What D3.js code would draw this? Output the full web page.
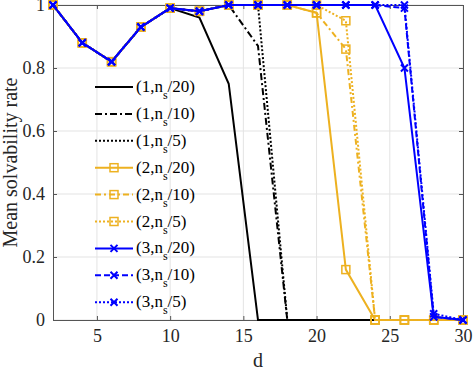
<!DOCTYPE html>
<html><head><meta charset="utf-8">
<script src="https://cdn.jsdelivr.net/npm/d3@7"></script>
<style>body{margin:0;background:#fff}svg{display:block}
.ser{font-family:"Liberation Serif";}</style>
</head><body>
<svg id="c" width="474" height="370"></svg>
<script>
const dVals = [2,4,6,8,10,12,14,16,18,20,22,24,26,28,30];
const s1_20 = [1,0.88,0.82,0.93,0.99,0.96,0.75,0,0,0,0,0,0,0,0];
const s1_10 = [1,0.88,0.82,0.93,0.99,0.98,1,0.87,0,0,0,0,0,0,0];
const s1_5  = [1,0.88,0.82,0.93,0.99,0.98,1,1,0,0,0,0,0,0,0];
const s2_20 = [1,0.88,0.82,0.93,0.99,0.98,1,1,1,0.975,0.16,0,0,0,0];
const s2_10 = [1,0.88,0.82,0.93,0.99,0.98,1,1,1,0.975,0.86,0,0,0,0];
const s2_5  = [1,0.88,0.82,0.93,0.99,0.98,1,1,1,1,0.95,0,0,0,0];
const s3_20 = [1,0.88,0.82,0.93,0.99,0.98,1,1,1,1,1,1,0.8,0.01,0];
const s3_10 = [1,0.88,0.82,0.93,0.99,0.98,1,1,1,1,1,1,0.99,0.01,0];
const s3_5  = [1,0.88,0.82,0.93,0.99,0.98,1,1,1,1,1,1,1,0.02,0];
const seriesNames = ["(1,n|/20)","(1,n|/10)","(1,n|/5)","(2,n|/20)","(2,n|/10)","(2,n|/5)","(3,n|/20)","(3,n|/10)","(3,n|/5)"];
const xTicks = [5,10,15,20,25,30];
const yTicks = [0,0.2,0.4,0.6,0.8,1];

const BLACK="#000000", ORANGE="#EDB120", BLUE="#0000FF";
const styles = [
  {c:BLACK,dash:null,m:null},{c:BLACK,dash:"7,3,2,3",m:null},{c:BLACK,dash:"2,2",m:null},
  {c:ORANGE,dash:null,m:"sq"},{c:ORANGE,dash:"6,3,2,3",m:"sq"},{c:ORANGE,dash:"2,2",m:"sq"},
  {c:BLUE,dash:null,m:"x"},{c:BLUE,dash:"6,3",m:"x"},{c:BLUE,dash:"2,2",m:"x"}
];
const allData=[s1_20,s1_10,s1_5,s2_20,s2_10,s2_5,s3_20,s3_10,s3_5];

const svg=d3.select("#c");
const L=53,R=463,T=5,B=320;
const x=d3.scaleLinear().domain([2,30]).range([L,R]);
const y=d3.scaleLinear().domain([0,1]).range([B,T]);
const AX="#555555";

const g=svg.append("g");
g.selectAll(".gx").data(xTicks).join("line").attr("x1",d=>x(d)).attr("x2",d=>x(d)).attr("y1",T).attr("y2",B).attr("stroke","#e3e3e3").attr("stroke-width",1);
g.selectAll(".gy").data(yTicks).join("line").attr("y1",d=>y(d)).attr("y2",d=>y(d)).attr("x1",L).attr("x2",R).attr("stroke","#e3e3e3").attr("stroke-width",1);

const ax=d3.axisBottom(x).tickValues(xTicks).tickSizeInner(-4).tickSizeOuter(0).tickPadding(9);
const ay=d3.axisLeft(y).tickValues(yTicks).tickFormat(d3.format("~g")).tickSizeInner(-4).tickSizeOuter(0).tickPadding(8);
const gx=svg.append("g").attr("transform",`translate(0,${B})`).call(ax);
const gy=svg.append("g").attr("transform",`translate(${L},0)`).call(ay);
[gx,gy].forEach(a=>{a.attr("font-family",null).attr("font-size",null);a.selectAll("text").attr("class","ser").attr("font-size",18).attr("fill","#262626");
 a.selectAll("line,path").attr("stroke",AX);});
const axT=d3.axisTop(x).tickValues(xTicks).tickSizeInner(-4).tickSizeOuter(0).tickFormat("");
const ayR=d3.axisRight(y).tickValues(yTicks).tickSizeInner(-4).tickSizeOuter(0).tickFormat("");
svg.append("g").attr("transform",`translate(0,${T})`).call(axT).selectAll("line,path").attr("stroke",AX);
svg.append("g").attr("transform",`translate(${R},0)`).call(ayR).selectAll("line,path").attr("stroke",AX);

const line=d3.line().x((d,i)=>x(dVals[i])).y(d=>y(d));
function marker(sel,type,c,px,py){
  if(type==="sq"){sel.append("rect").attr("x",px-4).attr("y",py-4).attr("width",8).attr("height",8).attr("fill","none").attr("stroke",c).attr("stroke-width",1.5);}
  else if(type==="x"){sel.append("path").attr("d",`M${px-3.5},${py-3.5}L${px+3.5},${py+3.5}M${px-3.5},${py+3.5}L${px+3.5},${py-3.5}`).attr("stroke",c).attr("stroke-width",2);}
}
const plot=svg.append("g");
allData.forEach((arr,k)=>{
  const s=styles[k];
  const gs=plot.append("g");
  gs.append("path").datum(arr).attr("d",line).attr("fill","none").attr("stroke",s.c).attr("stroke-width",2).attr("stroke-dasharray",s.dash);
  if(s.m) arr.forEach((v,i)=>marker(gs,s.m,s.c,x(dVals[i]),y(v)));
});

const lg=svg.append("g");
seriesNames.forEach((nm,k)=>{
  const s=styles[k]; const yy=87+k*26.9;
  lg.append("line").attr("x1",95).attr("x2",133).attr("y1",yy).attr("y2",yy).attr("stroke",s.c).attr("stroke-width",2).attr("stroke-dasharray",s.dash);
  if(s.m) marker(lg,s.m,s.c,114,yy);
  const parts=nm.split("|");
  const t=lg.append("text").attr("class","ser").attr("x",136).attr("y",yy+5).attr("font-size",17).attr("fill","#000");
  t.append("tspan").text(parts[0]);
  t.append("tspan").attr("dy",7).attr("font-size",12).text("s");
  t.append("tspan").attr("dy",-7).text(parts[1]);
});

svg.append("text").attr("class","ser").attr("x",(L+R)/2).attr("y",367).attr("text-anchor","middle").attr("font-size",20).attr("fill","#262626").text("d");
svg.append("text").attr("class","ser").attr("transform",`translate(17,${(T+B)/2}) rotate(-90)`).attr("text-anchor","middle").attr("font-size",20).attr("fill","#262626").text("Mean solvability rate");
</script>
</body></html>
